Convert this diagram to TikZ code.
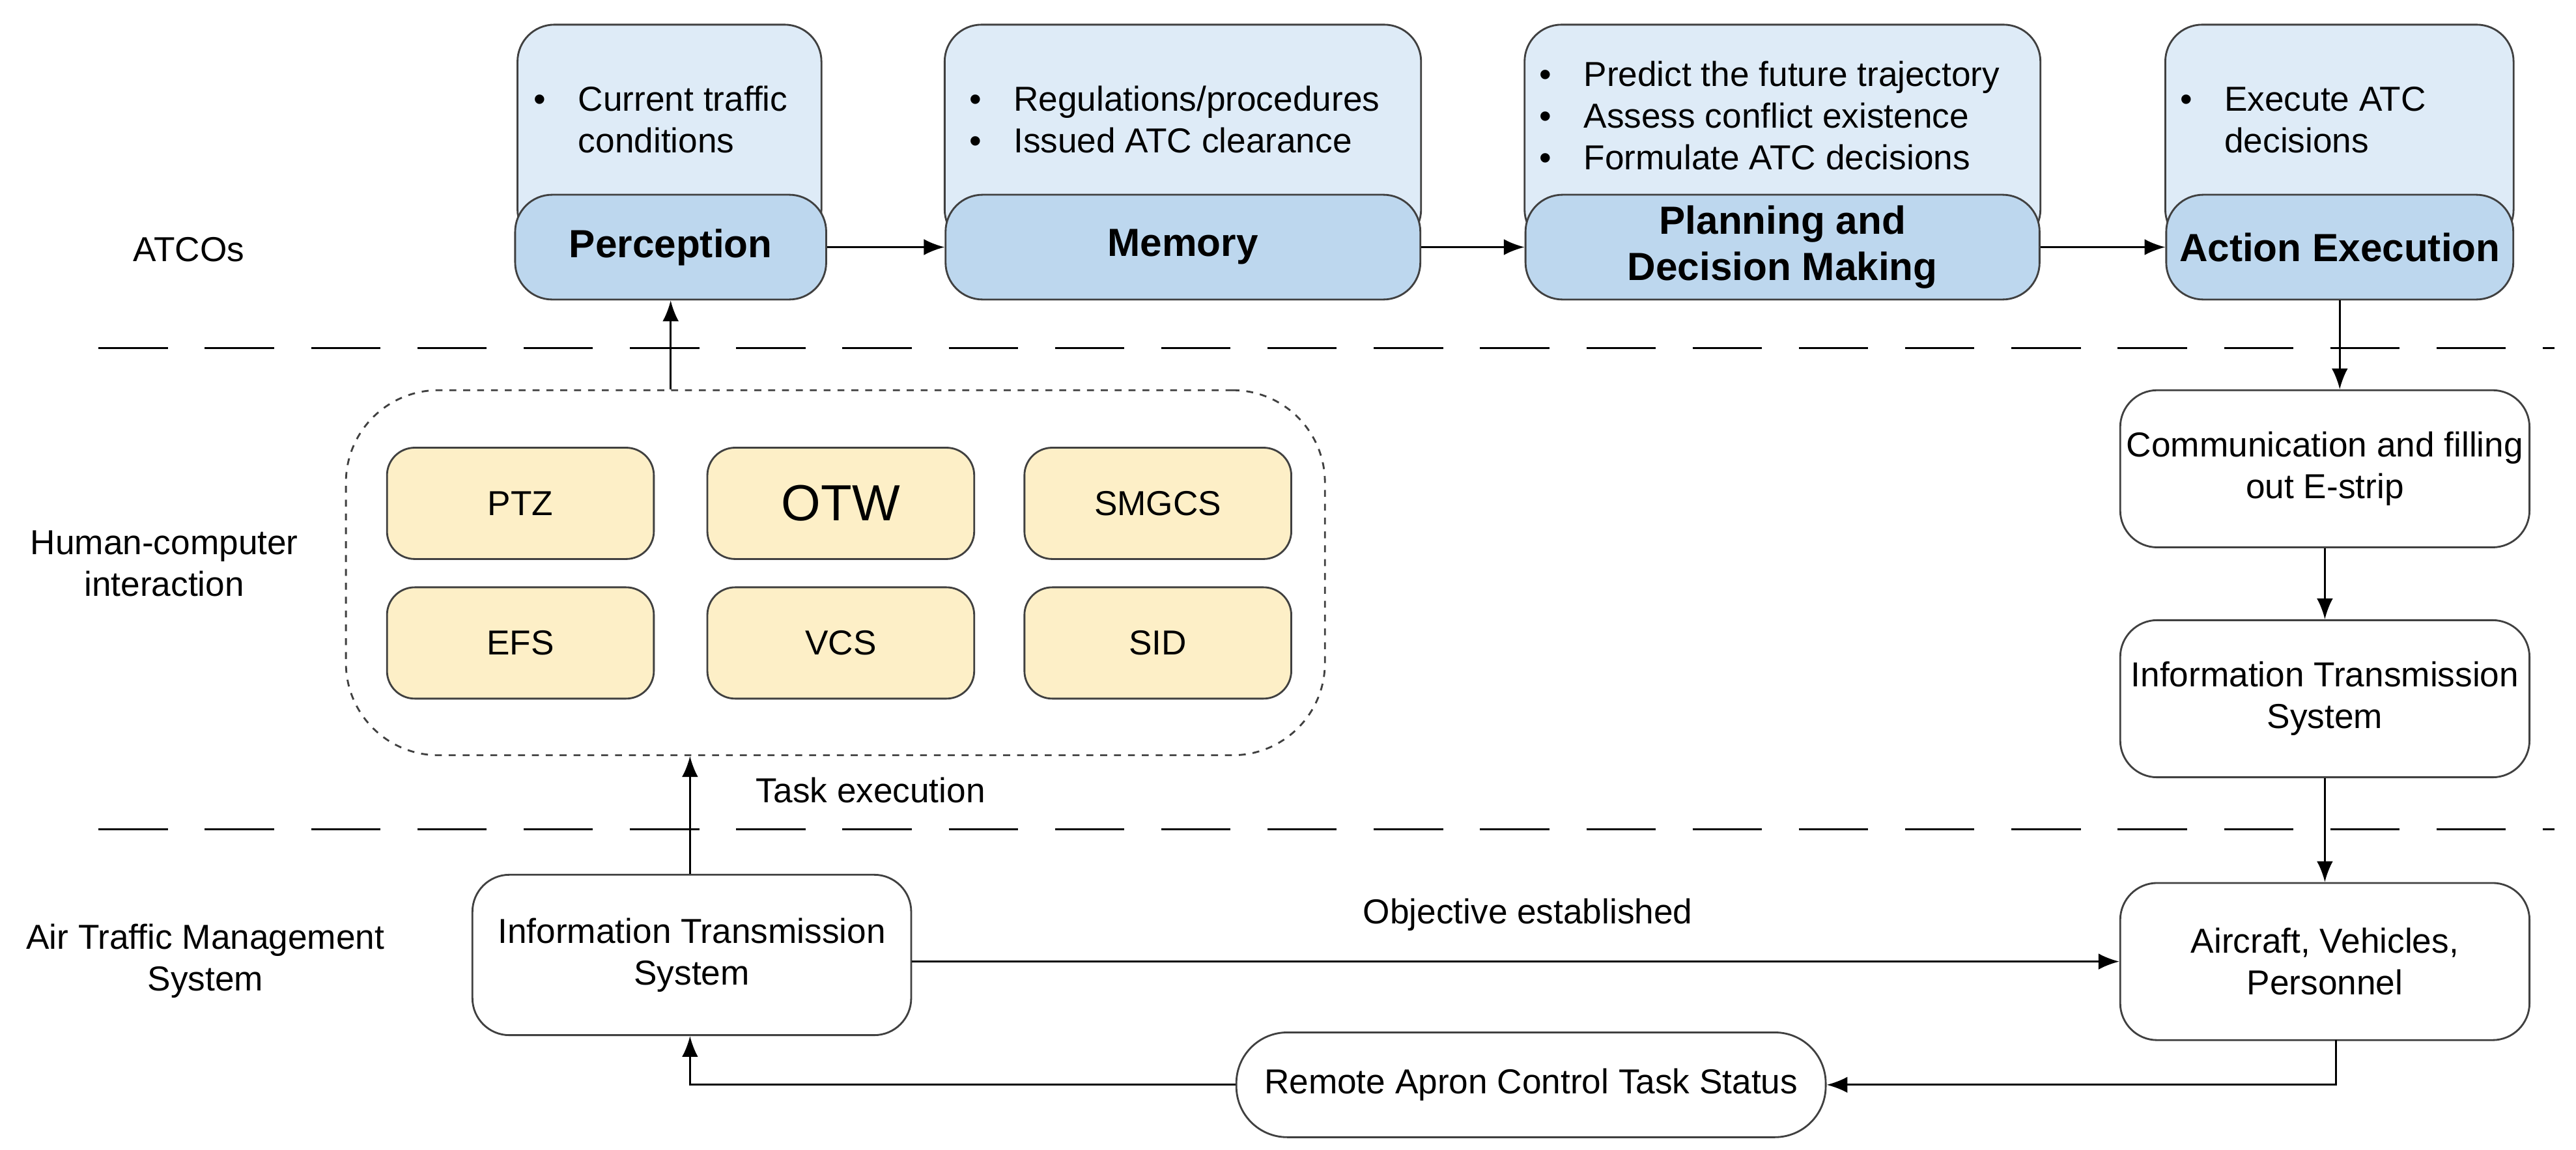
\documentclass[tikz,border=0pt]{standalone}
\usepackage{fontspec}
\setmainfont{Liberation Sans}
\usetikzlibrary{arrows.meta}
\definecolor{mainb}{HTML}{BDD7EE}
\definecolor{bulb}{HTML}{DEEBF7}
\definecolor{yel}{HTML}{FDEFC7}
\definecolor{edge}{HTML}{404040}
\newcommand{\bl}[1]{\begin{tabular}{@{}l@{\hspace{14pt}}l@{}}#1\end{tabular}}
\begin{document}
\begin{tikzpicture}[x=0.025cm,y=-0.025cm,
  box/.style={draw=edge,line width=0.8pt,rounded corners=16pt},
  sz/.style 2 args={minimum width=#1*0.70866pt,minimum height=#2*0.70866pt,inner sep=0pt},
  arr/.style={-{Latex[length=9pt,width=7pt]},line width=0.9pt,black},
  lab/.style={font=\fontsize{15}{18}\selectfont,align=center},
  big/.style={font=\fontsize{17}{20}\selectfont\bfseries,align=center},
  sep/.style={dash pattern=on 30pt off 16pt,line width=0.9pt}]
\useasboundingbox (0,0) rectangle (1568,700);
% bullet boxes
\draw[box,fill=bulb] (315,15) rectangle (500,150);
\draw[box,fill=bulb] (575,15) rectangle (865,150);
\draw[box,fill=bulb] (928,15) rectangle (1242,150);
\draw[box,fill=bulb] (1318,15) rectangle (1530,150);
\node[lab,anchor=north west] (b1) at (320,45) {\bl{\textbullet & Current traffic\\ & conditions}};
\node[lab,anchor=north west] (b2) at (585,45) {\bl{\textbullet & Regulations/procedures\\ \textbullet & Issued ATC clearance}};
\node[lab,anchor=north west] (b3) at (932,30) {\bl{\textbullet & Predict the future trajectory\\ \textbullet & Assess conflict existence\\ \textbullet & Formulate ATC decisions}};
\node[lab,anchor=north west] (b4) at (1322,45) {\bl{\textbullet & Execute ATC\\ & decisions}};
% main boxes
\node[box,fill=mainb,big,sz={190}{64},anchor=north west] (per) at (313,118) {Perception};
\node[box,fill=mainb,big,sz={290}{64},anchor=north west] (mem) at (575,118) {Memory};
\node[box,fill=mainb,big,sz={314}{64},anchor=north west] (plan) at (928,118) {Planning and\\Decision Making};
\node[box,fill=mainb,big,sz={212}{64},anchor=north west] (act) at (1318,118) {Action Execution};
\draw[arr] (per) -- (mem);
\draw[arr] (mem) -- (plan);
\draw[arr] (plan) -- (act);
% labels
\node[lab] (l1) at (115,152) {ATCOs};
\node[lab] (l2) at (100,343) {Human-computer\\interaction};
\node[lab] (l3) at (125,585) {Air Traffic Management\\System};
% separators
\draw[sep] (60,212) -- (1555,212);
\draw[sep] (60,505) -- (1555,505);
% group
\node[draw=edge,dashed,line width=0.8pt,rounded corners=40pt,sz={598}{223},anchor=north west] (grp) at (210,237) {};
\tikzset{yb/.style={box,fill=yel,lab,sz={163}{68},rounded corners=12pt,anchor=north west}}
\node[yb] (ptz) at (235,272) {PTZ};
\node[yb,font=\fontsize{22}{24}\selectfont] (otw) at (430,272) {OTW};
\node[yb] (smg) at (623,272) {SMGCS};
\node[yb] (efs) at (235,357) {EFS};
\node[yb] (vcs) at (430,357) {VCS};
\node[yb] (sid) at (623,357) {SID};
\draw[arr] (grp.north -| per) -- (per.south);
% right column
\tikzset{wb/.style={box,lab,sz={250}{96},anchor=north west}}
\node[wb] (com) at (1290,237) {Communication and filling\\out E-strip};
\node[wb] (its) at (1290,377) {Information Transmission\\System};
\node[wb] (air) at (1290,537) {Aircraft, Vehicles,\\Personnel};
\draw[arr] (act.south) -- (act.south |- com.north);
\draw[arr] (com) -- (its);
\draw[arr] (its) -- (its |- air.north);
% bottom
\node[wb,sz={268}{98}] (lit) at (287,532) {Information Transmission\\System};
\node[box,lab,sz={360}{64},anchor=north west,rounded corners=22pt] (rem) at (752,628) {Remote Apron Control Task Status};
\coordinate (tx) at (420,532);
\draw[arr] (tx) -- (tx |- grp.south);
\node[lab] (te) at (530,481) {Task execution};
\draw[arr] (lit.east |- air.west) -- (air.west);
\node[lab] (oe) at (930,557) {Objective established};
\coordinate (ab) at (1422,633);
\draw[arr] (ab) |- (rem.east);
\draw[arr] (rem.west) -| (lit.south -| tx);
\end{tikzpicture}
\end{document}
